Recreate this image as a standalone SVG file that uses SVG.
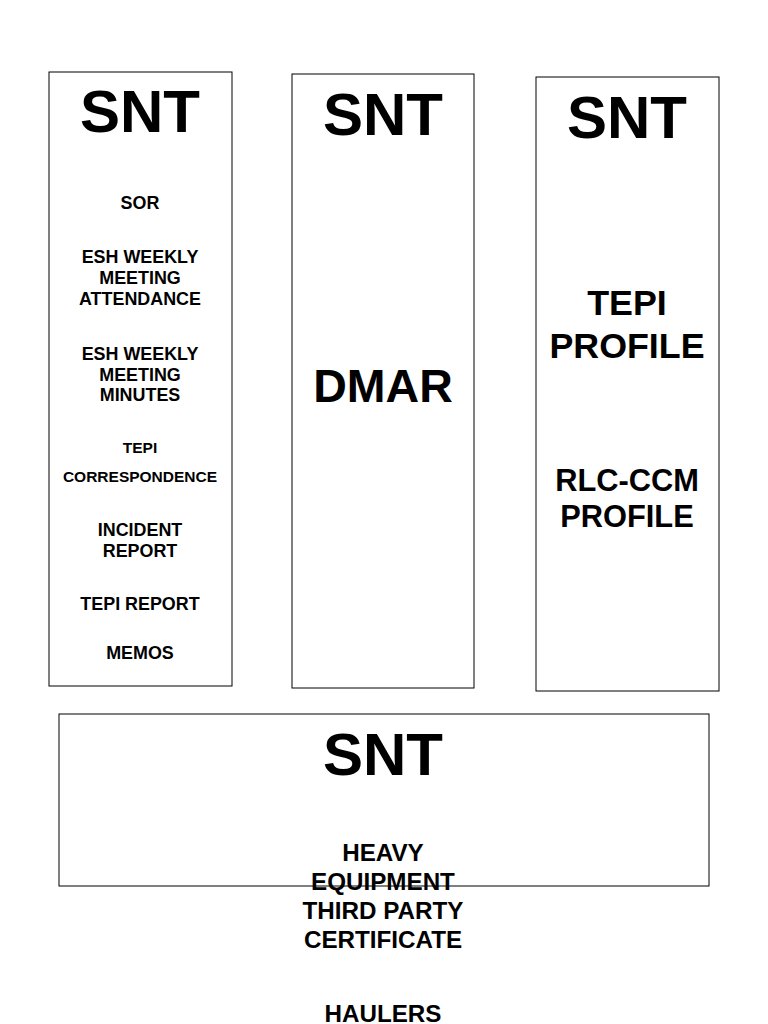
<svg xmlns="http://www.w3.org/2000/svg" width="768" height="1024" viewBox="0 0 768 1024">
<style>
rect{fill:none;stroke:#000;stroke-width:1}
text{font-family:"Liberation Sans",Arial,sans-serif;font-weight:bold;text-anchor:middle;fill:#000}
.t{font-size:60px}.s{font-size:17.9px}.xs{font-size:15.5px}.m{font-size:24.2px}
</style>
<rect width="768" height="1024" style="fill:#fff;stroke:none"/>
<g id="box1"><rect x="49" y="72" width="183" height="614"/>
<text class="t" x="140" y="132">SNT</text>
<text class="s" x="140" y="209">SOR</text>
<text class="s" x="140" y="263">ESH WEEKLY</text><text class="s" x="140" y="284">MEETING</text><text class="s" x="140" y="305">ATTENDANCE</text>
<text class="s" x="140" y="360">ESH WEEKLY</text><text class="s" x="140" y="381">MEETING</text><text class="s" x="140" y="401">MINUTES</text>
<text class="xs" x="140" y="453">TEPI</text><text class="xs" x="140" y="482">CORRESPONDENCE</text>
<text class="s" x="140" y="536">INCIDENT</text><text class="s" x="140" y="557">REPORT</text>
<text class="s" x="140" y="610">TEPI REPORT</text>
<text class="s" x="140" y="659">MEMOS</text></g>
<g id="box2"><rect x="292" y="74" width="182" height="614"/>
<text class="t" x="383" y="135">SNT</text>
<text x="383" y="402" style="font-size:46.5px">DMAR</text></g>
<g id="box3"><rect x="536" y="77" width="183" height="614"/>
<text class="t" x="627" y="138">SNT</text>
<text x="627" y="315" style="font-size:35.8px">TEPI</text><text x="627" y="358" style="font-size:35.8px">PROFILE</text>
<text x="627" y="491" style="font-size:30.8px">RLC-CCM</text><text x="627" y="527" style="font-size:30.8px">PROFILE</text></g>
<g id="box4"><rect x="59" y="714" width="650" height="172"/>
<text class="t" x="383" y="775">SNT</text>
<text class="m" x="383" y="861">HEAVY</text><text class="m" x="383" y="890">EQUIPMENT</text><text class="m" x="383" y="919">THIRD PARTY</text><text class="m" x="383" y="948">CERTIFICATE</text>
<text class="m" x="383" y="1022">HAULERS</text></g>
<g id="connectors"/>
</svg>
